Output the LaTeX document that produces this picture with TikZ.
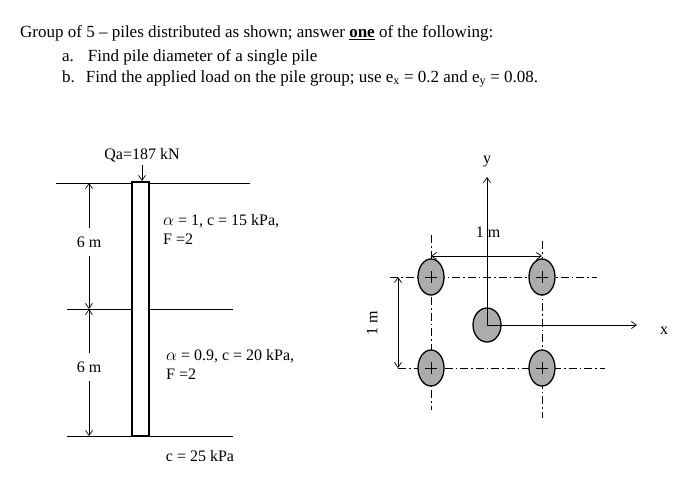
\documentclass[tikz,border=0pt]{standalone}
\usepackage{fontspec}
\setmainfont{Liberation Serif}
\usetikzlibrary{arrows.meta,shapes.geometric}
\begin{document}
\begin{tikzpicture}[x=1pt,y=-1pt,
  ln/.style={line width=0.8pt},
  dim/.style={line width=0.7pt,{Straight Barb[length=5pt,width=7pt]}-{Straight Barb[length=5pt,width=7pt]}},
  arr/.style={line width=0.7pt,-{Straight Barb[length=5pt,width=7pt]}},
  cl/.style={line width=0.6pt,dash pattern=on 8pt off 3pt on 1.5pt off 3pt},
  pile/.style={draw,line width=1.3pt,fill=gray!65,ellipse,inner sep=0pt},
  txt/.style={inner sep=0pt,font=\fontsize{17}{20}\selectfont},
  sm/.style={inner sep=0pt,font=\fontsize{16}{19}\selectfont}]
\useasboundingbox (0,0) rectangle (700,493);
% header
\node[txt,anchor=west] (t1) at (20,33) {Group of 5 -- piles distributed as shown; answer \underline{\textbf{one}} of the following:};
\node[txt,anchor=west] (t2) at (62,57) {a.\hspace{14pt}Find pile diameter of a single pile};
\node[txt,anchor=west] (t3) at (62,79) {b.\hspace{11pt}Find the applied load on the pile group; use e$_{\mathrm x}$ = 0.2 and e$_{\mathrm y}$ = 0.08.};
% left
\coordinate (g1) at (56,183); \coordinate (g1e) at (250,183);
\coordinate (g2) at (67,309); \coordinate (g2e) at (233,309);
\coordinate (g3) at (67,436); \coordinate (g3e) at (233,436);
\draw[ln] (g1) -- (g1e); \draw[ln] (g2) -- (g2e); \draw[ln] (g3) -- (g3e);
\draw[line width=1.3pt,fill=white] (132,182) rectangle (149,436);
\node[sm] (qa) at (142,155) {Qa=187 kN};
\coordinate (qt) at (142,181);
\draw[arr] (qa.south) ++(0,3) -- (qt);
\node[sm] (d1) at (89,242) {6 m};
\node[sm] (d2) at (89,367) {6 m};
\coordinate (a1) at (89,183); \coordinate (a2) at (89,309); \coordinate (a3) at (89,436);
\draw[arr] (d1.north) ++(0,-8) -- (a1);
\draw[arr] (d1.south) ++(0,8) -- (a2);
\draw[arr] (d2.north) ++(0,-8) -- (a2);
\draw[arr] (d2.south) ++(0,8) -- (a3);
\node[sm,anchor=west,align=left] (s1) at (163,229) {$\alpha$ = 1, c = 15 kPa,\\F =2};
\node[sm,anchor=west,align=left] (s2) at (166,364) {$\alpha$ = 0.9, c = 20 kPa,\\F =2};
\node[sm] (s3) at (200,456) {c = 25 kPa};
% right
\draw[cl] (390,277) -- (597,277);
\draw[cl] (398,368) -- (605,368);
\draw[cl] (431,235) -- (431,410);
\draw[cl] (542,241) -- (542,418);
\coordinate (o) at (487,325);
\node[sm] (ylab) at (487,162) {y};
\node[sm] (xlab) at (664,331) {x};
\coordinate (ytip) at (487,177); \coordinate (xtip) at (637,325);
\node[pile,minimum width=26pt,minimum height=36pt] (p1) at (431,277) {};
\node[pile,minimum width=26pt,minimum height=36pt] (p2) at (542,277) {};
\node[pile,minimum width=26pt,minimum height=36pt] (p3) at (431,368) {};
\node[pile,minimum width=26pt,minimum height=36pt] (p4) at (542,368) {};
\node[pile,minimum width=28pt,minimum height=34pt] (p0) at (o) {};
\foreach \p in {p1,p2,p3,p4}{
  \draw[line width=0.6pt] ([yshift=-6pt]\p.center) -- ([yshift=6pt]\p.center);
  \draw[line width=0.6pt] ([xshift=-6pt]\p.center) -- ([xshift=6pt]\p.center);}
\draw[arr] (o) -- (ytip);
\draw[arr] (o) -- (xtip);
\coordinate (h1) at (431,256); \coordinate (h2) at (542,256);
\draw[dim] (h1) -- (h2);
\node[sm] (l1) at (488,232) {1 m};
\coordinate (v1) at (398,277); \coordinate (v2) at (398,368);
\draw[dim] (v1) -- (v2);
\node[sm,rotate=90] (l2) at (372,323) {1 m};
\end{tikzpicture}
\end{document}
